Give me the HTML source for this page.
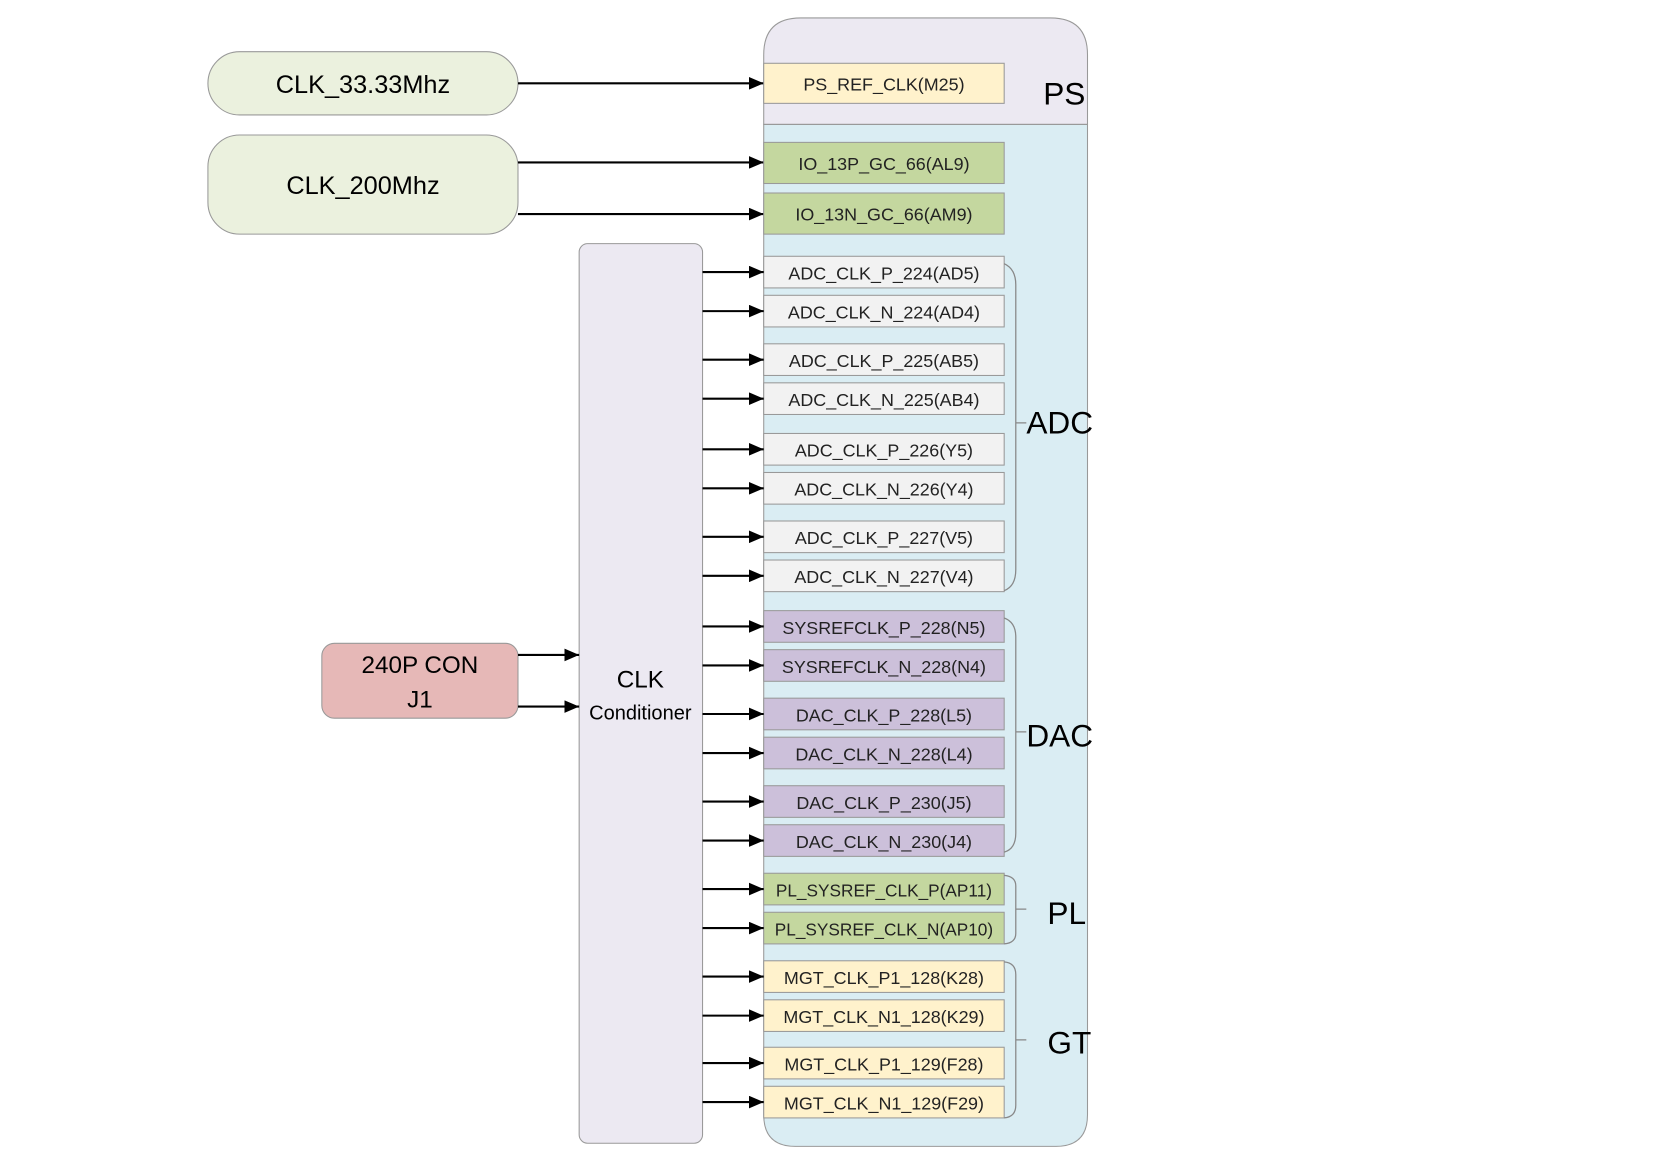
<!DOCTYPE html>
<html><head><meta charset="utf-8"><style>html,body{margin:0;padding:0;background:#fff}svg{display:block}</style></head>
<body>
<svg width="1654" height="1158" viewBox="0 0 1568 1098" xmlns="http://www.w3.org/2000/svg" font-family="Liberation Sans, DejaVu Sans, sans-serif">
<defs><marker id="a" markerWidth="14" markerHeight="12" refX="14" refY="6" orient="auto" markerUnits="userSpaceOnUse"><path d="M0,0 L14,6 L0,12 z" fill="#000"/></marker></defs>
<path d="M724,118 L724,52 Q724,17 759,17 L996,17 Q1031,17 1031,52 L1031,118 Z" fill="#ece9f2" stroke="#999"/>
<path d="M724,118 L1031,118 L1031,1057 Q1031,1087 1001,1087 L754,1087 Q724,1087 724,1057 Z" fill="#daedf3" stroke="#999"/>
<text x="1009" y="99" font-size="30" text-anchor="middle">PS</text>
<rect x="197" y="49" width="294" height="60" rx="30" fill="#ebf1de" stroke="#999"/>
<text x="344" y="88" font-size="24" text-anchor="middle">CLK_33.33Mhz</text>
<rect x="197" y="128" width="294" height="94" rx="30" fill="#ebf1de" stroke="#999"/>
<text x="344" y="184" font-size="24" text-anchor="middle">CLK_200Mhz</text>
<rect x="305" y="610" width="186" height="71" rx="12" fill="#e6b8b7" stroke="#999"/>
<text x="398" y="638" font-size="23" text-anchor="middle">240P CON</text>
<text x="398" y="671" font-size="23" text-anchor="middle">J1</text>
<rect x="549" y="231" width="117" height="853" rx="8" fill="#ece9f2" stroke="#999"/>
<text x="607" y="652" font-size="23" text-anchor="middle">CLK</text>
<text x="607" y="682" font-size="19" text-anchor="middle">Conditioner</text>
<g stroke="#000" stroke-width="2" marker-end="url(#a)">
<line x1="491" y1="79" x2="724" y2="79"/>
<line x1="491" y1="154" x2="724" y2="154"/>
<line x1="491" y1="203" x2="724" y2="203"/>
<line x1="491" y1="621" x2="549" y2="621"/>
<line x1="491" y1="670" x2="549" y2="670"/>
</g>
<g stroke="#999">
<rect x="724" y="60" width="228" height="38" fill="#fff2cc"/>
<rect x="724" y="135" width="228" height="39" fill="#c4d79f"/>
<rect x="724" y="183" width="228" height="39" fill="#c4d79f"/>
</g>
<g font-size="17" text-anchor="middle" fill="#222">
<text x="838" y="86">PS_REF_CLK(M25)</text>
<text x="838" y="161">IO_13P_GC_66(AL9)</text>
<text x="838" y="209">IO_13N_GC_66(AM9)</text>
</g>
<g stroke="#999">
<rect x="724" y="243" width="228" height="30" fill="#f2f2f2"/>
<rect x="724" y="280" width="228" height="30" fill="#f2f2f2"/>
<rect x="724" y="326" width="228" height="30" fill="#f2f2f2"/>
<rect x="724" y="363" width="228" height="30" fill="#f2f2f2"/>
<rect x="724" y="411" width="228" height="30" fill="#f2f2f2"/>
<rect x="724" y="448" width="228" height="30" fill="#f2f2f2"/>
<rect x="724" y="494" width="228" height="30" fill="#f2f2f2"/>
<rect x="724" y="531" width="228" height="30" fill="#f2f2f2"/>
<rect x="724" y="579" width="228" height="30" fill="#ccc0da"/>
<rect x="724" y="616" width="228" height="30" fill="#ccc0da"/>
<rect x="724" y="662" width="228" height="30" fill="#ccc0da"/>
<rect x="724" y="699" width="228" height="30" fill="#ccc0da"/>
<rect x="724" y="745" width="228" height="30" fill="#ccc0da"/>
<rect x="724" y="782" width="228" height="30" fill="#ccc0da"/>
<rect x="724" y="828" width="228" height="30" fill="#c4d79f"/>
<rect x="724" y="865" width="228" height="30" fill="#c4d79f"/>
<rect x="724" y="911" width="228" height="30" fill="#fff2cc"/>
<rect x="724" y="948" width="228" height="30" fill="#fff2cc"/>
<rect x="724" y="993" width="228" height="30" fill="#fff2cc"/>
<rect x="724" y="1030" width="228" height="30" fill="#fff2cc"/>
</g>
<g stroke="#000" stroke-width="2" marker-end="url(#a)">
<line x1="666" y1="258" x2="724" y2="258"/><line x1="666" y1="295" x2="724" y2="295"/>
<line x1="666" y1="341" x2="724" y2="341"/><line x1="666" y1="378" x2="724" y2="378"/>
<line x1="666" y1="426" x2="724" y2="426"/><line x1="666" y1="463" x2="724" y2="463"/>
<line x1="666" y1="509" x2="724" y2="509"/><line x1="666" y1="546" x2="724" y2="546"/>
<line x1="666" y1="594" x2="724" y2="594"/><line x1="666" y1="631" x2="724" y2="631"/>
<line x1="666" y1="677" x2="724" y2="677"/><line x1="666" y1="714" x2="724" y2="714"/>
<line x1="666" y1="760" x2="724" y2="760"/><line x1="666" y1="797" x2="724" y2="797"/>
<line x1="666" y1="843" x2="724" y2="843"/><line x1="666" y1="880" x2="724" y2="880"/>
<line x1="666" y1="926" x2="724" y2="926"/><line x1="666" y1="963" x2="724" y2="963"/>
<line x1="666" y1="1008" x2="724" y2="1008"/><line x1="666" y1="1045" x2="724" y2="1045"/>
</g>
<g font-size="17" text-anchor="middle" fill="#222">
<text x="838" y="265">ADC_CLK_P_224(AD5)</text>
<text x="838" y="302">ADC_CLK_N_224(AD4)</text>
<text x="838" y="348">ADC_CLK_P_225(AB5)</text>
<text x="838" y="385">ADC_CLK_N_225(AB4)</text>
<text x="838" y="433">ADC_CLK_P_226(Y5)</text>
<text x="838" y="470">ADC_CLK_N_226(Y4)</text>
<text x="838" y="516">ADC_CLK_P_227(V5)</text>
<text x="838" y="553">ADC_CLK_N_227(V4)</text>
<text x="838" y="601">SYSREFCLK_P_228(N5)</text>
<text x="838" y="638">SYSREFCLK_N_228(N4)</text>
<text x="838" y="684">DAC_CLK_P_228(L5)</text>
<text x="838" y="721">DAC_CLK_N_228(L4)</text>
<text x="838" y="767">DAC_CLK_P_230(J5)</text>
<text x="838" y="804">DAC_CLK_N_230(J4)</text>
<text x="838" y="850" textLength="205" lengthAdjust="spacingAndGlyphs">PL_SYSREF_CLK_P(AP11)</text>
<text x="838" y="887" textLength="207" lengthAdjust="spacingAndGlyphs">PL_SYSREF_CLK_N(AP10)</text>
<text x="838" y="933">MGT_CLK_P1_128(K28)</text>
<text x="838" y="970">MGT_CLK_N1_128(K29)</text>
<text x="838" y="1015">MGT_CLK_P1_129(F28)</text>
<text x="838" y="1052">MGT_CLK_N1_129(F29)</text>
</g>
<g fill="none" stroke="#888" stroke-width="1.2">
<path d="M952,250 Q963,255 963,270 L963,540 Q963,556 952,560 M963,401 L973,401"/>
<path d="M952,586 Q963,590 963,604 L963,790 Q963,805 952,808 M963,694 L973,694"/>
<path d="M952,830 Q963,831 963,840 L963,885 Q963,894 952,895 M963,862 L973,862"/>
<path d="M952,912 Q963,913 963,924 L963,1048 Q963,1059 952,1060 M963,986 L973,986"/>
</g>
<g font-size="30" fill="#000">
<text x="973" y="411">ADC</text>
<text x="973" y="708">DAC</text>
<text x="993" y="876">PL</text>
<text x="993" y="999">GT</text>
</g>
</svg>
</body></html>
